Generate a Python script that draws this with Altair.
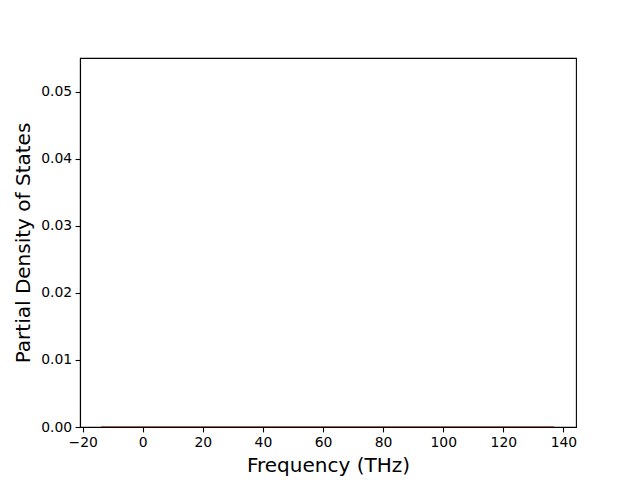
import altair as alt
import pandas as pd

freq = [-13.9, 0, 20, 40, 60, 80, 100, 120, 136.9]
pdos = [0, 0, 0, 0, 0, 0, 0, 0, 0]
x_ticks = [-20, 0, 20, 40, 60, 80, 100, 120, 140]
y_ticks = [0.0, 0.01, 0.02, 0.03, 0.04, 0.05]

df = pd.DataFrame({"freq": freq, "pdos": pdos})

font = "DejaVu Sans"
line = alt.Chart(df).mark_line(color="#a0604f", strokeWidth=2.1, clip=True).encode(
    x=alt.X("freq:Q",
            scale=alt.Scale(domain=[-20.9, 144.2], nice=False, zero=False),
            axis=alt.Axis(values=x_ticks, format="d", title="Frequency (THz)",
                          labelExpr="replace(datum.label, '-', '\u2212')",
                          grid=False, tickSize=4.9, tickWidth=1.1, tickColor="black",
                          domainColor="black", domainWidth=1.1,
                          labelFont=font, labelFontSize=13.9, labelColor="black",
                          labelPadding=3.5, titleFont=font, titleFontSize=20,
                          titleFontWeight="normal", titleColor="black", titlePadding=6)),
    y=alt.Y("pdos:Q",
            scale=alt.Scale(domain=[0, 0.055], nice=False),
            axis=alt.Axis(values=y_ticks, format=".2f", title="Partial Density of States",
                          grid=False, tickSize=4.9, tickWidth=1.1, tickColor="black",
                          domainColor="black", domainWidth=1.1,
                          labelFont=font, labelFontSize=13.9, labelColor="black",
                          labelPadding=3.5, titleFont=font, titleFontSize=20,
                          titleFontWeight="normal", titleColor="black", titlePadding=7)),
)

chart = line.properties(
    width=496, height=369,
    autosize=alt.AutoSizeParams(type="none"),
    padding={"left": 72, "top": 50, "right": 56, "bottom": 50},
    background="white",
).configure_view(stroke="black", strokeWidth=1.1)

chart.save("out.html", embed_options={"renderer": "svg", "actions": False})
